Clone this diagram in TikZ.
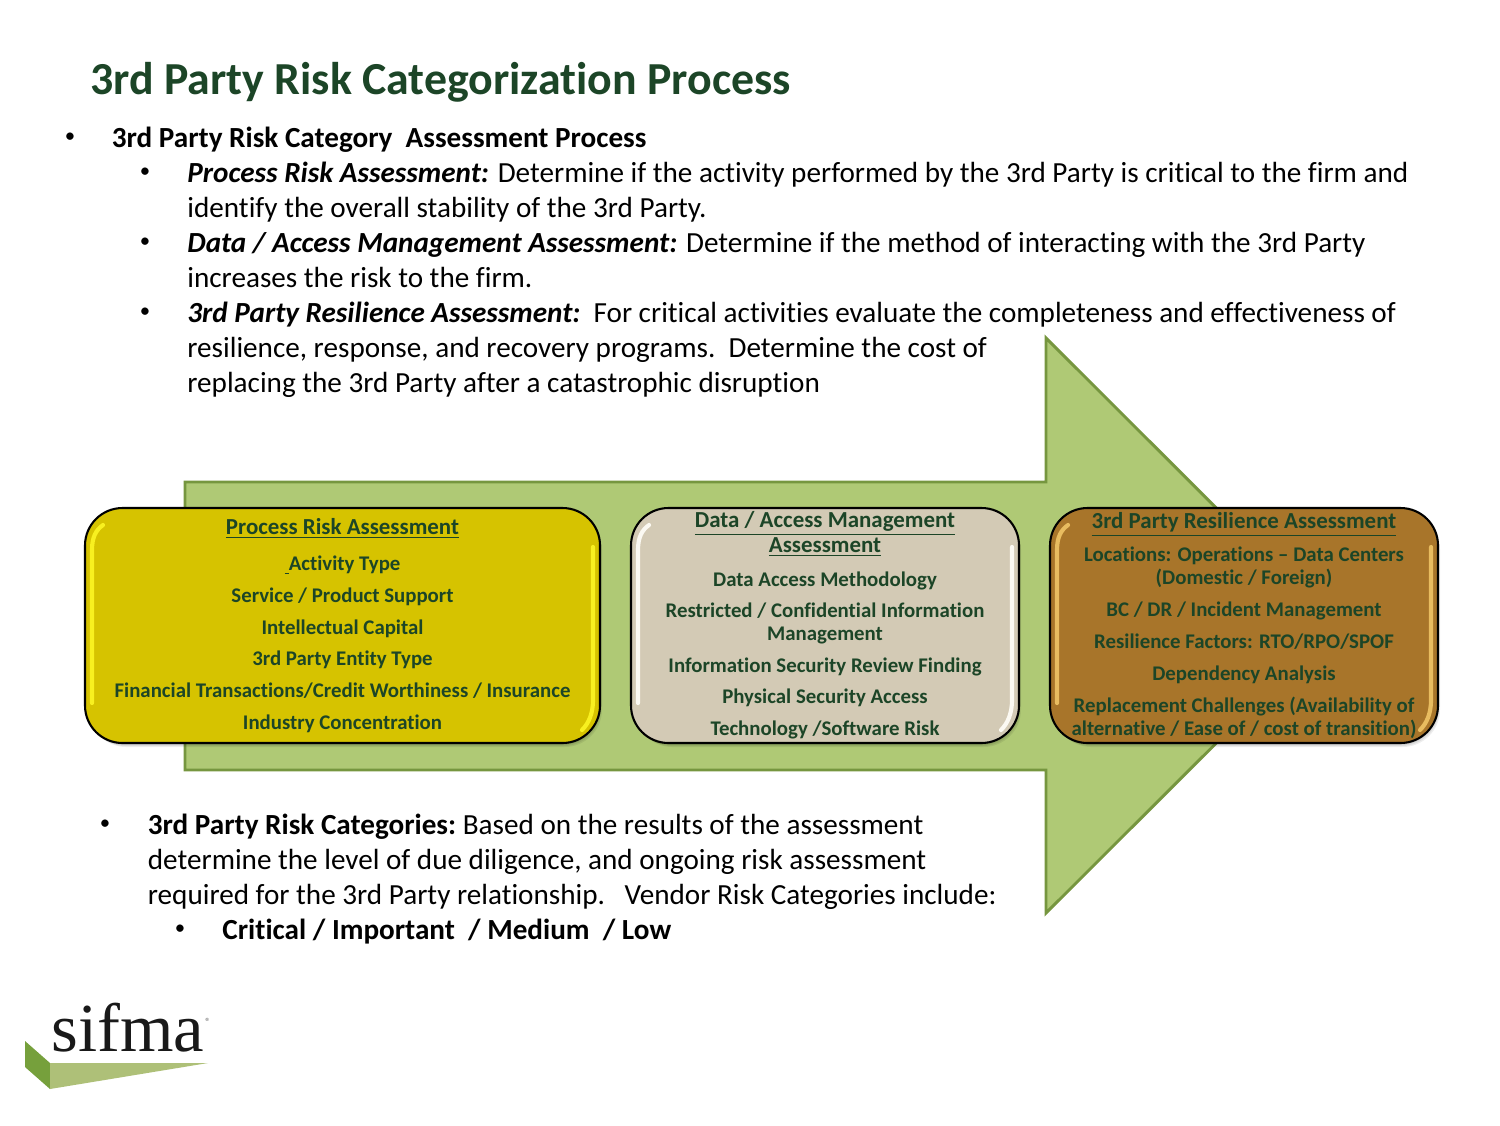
\documentclass[tikz,border=0pt]{standalone}
\usepackage{fontspec}
\setmainfont[Ligatures={TeX,NoCommon}]{Carlito}
\newfontfamily\logofont{Liberation Serif}
\usepackage{xcolor}
\usetikzlibrary{calc}
\definecolor{titlegreen}{HTML}{1C4527}
\definecolor{arrowfill}{HTML}{AFC975}
\definecolor{arrowedge}{HTML}{76963F}
\definecolor{procfill}{HTML}{D6C300}
\definecolor{procglow}{HTML}{F8F020}
\definecolor{datafill}{HTML}{D3CAB5}
\definecolor{dataglow}{HTML}{FBF9F2}
\definecolor{resfill}{HTML}{A8752A}
\definecolor{resglow}{HTML}{E8BC60}
\definecolor{logodark}{HTML}{76A03C}
\definecolor{logolight}{HTML}{AEC078}
\newcommand{\boxhead}[1]{{\fontsize{11}{12}\selectfont\underline{#1}}}
\tikzset{
  arrowbody/.style={fill=arrowfill, draw=arrowedge, line width=1.4pt, line join=miter},
  riskbox/.style={draw=black, line width=1pt, rounded corners=18pt, minimum width=#1*0.48pt,
    minimum height=235*0.48pt, inner sep=0pt, text=titlegreen, align=center,
    font=\fontsize{10}{11}\selectfont\bfseries},
  glow/.style={line width=2pt, line cap=round},
  para/.style={anchor=base west, inner sep=0pt, align=left, font=\fontsize{14}{16.8}\selectfont},
  bul/.style={anchor=center, inner sep=0pt, font=\fontsize{10}{12}\selectfont}
}
\begin{document}
\begin{tikzpicture}[x=0.48pt,y=-0.48pt]
  \useasboundingbox (0,0) rectangle (1500,1125);

  % big arrow behind the boxes
  \draw[arrowbody] (185,482)--(1046,482)--(1046,338)--(1334,625.5)--(1046,913)--(1046,770)--(185,770)--cycle;

  % soft shadows
  \foreach \xa/\xb in {85/600,631/1019,1050/1438}{
    \foreach \d in {1,2,3,4}{
      \fill[black,opacity=0.07,rounded corners=18pt] (\xa+\d,508+\d) rectangle (\xb+\d-2,743+\d);
    }
  }

  % the three boxes
  \node[riskbox=515,fill=procfill] (procbox) at (342.5,625.5) {%
    \boxhead{Process Risk Assessment}\\[6.3pt]
    \underline{\hspace{2pt}}Activity Type\\[4.3pt]
    Service / Product Support\\[4.3pt]
    Intellectual Capital\\[4.3pt]
    3rd Party Entity Type\\[4.3pt]
    Financial Transactions/Credit Worthiness / Insurance\\[4.3pt]
    Industry Concentration};
  \node[riskbox=388,fill=datafill] (databox) at (825,625.5) {%
    \boxhead{Data / Access Management}\\[1pt]
    \boxhead{Assessment}\\[5pt]
    Data Access Methodology\\[4pt]
    Restricted / Confidential Information\\
    Management\\[4.3pt]
    Information Security Review Finding\\[4.3pt]
    Physical Security Access\\[4.3pt]
    Technology /Software Risk};
  \node[riskbox=388,fill=resfill] (resbox) at (1244,625.5) {%
    \boxhead{3rd Party Resilience Assessment}\\[5pt]
    Locations: Operations -- Data Centers\\
    (Domestic / Foreign)\\[4.3pt]
    BC / DR / Incident Management\\[4.3pt]
    Resilience Factors: RTO/RPO/SPOF\\[4.3pt]
    Dependency Analysis\\[4.3pt]
    Replacement Challenges (Availability of\\
    alternative / Ease of / cost of transition)};

  % bevel highlights
  \foreach \xa/\xb/\hi in {85/600/procglow,631/1019/dataglow,1050/1438/resglow}{
    \draw[glow,\hi] (\xa+7,703) -- (\xa+7,550) .. controls (\xa+7,537) and (\xa+11,530) .. (\xa+18,525);
    \draw[glow,\hi] (\xb-7,547) -- (\xb-7,700) .. controls (\xb-7,713) and (\xb-11,723) .. (\xb-18,730);
  }

  % title and upper text
  \node[anchor=base west,inner sep=0pt,text=titlegreen,font=\fontsize{22}{26}\selectfont\bfseries] (title) at (90,94) {3rd Party Risk Categorization Process};
  \node[bul] (bulmain) at (70,138) {•};
  \node[para] (mainhead) at (111.5,147) {\bfseries 3rd Party Risk Category\ \ Assessment Process};
  \node[bul] (bulproc) at (145,173) {•};
  \node[para] (proctext) at (187,182) {{\bfseries\itshape Process Risk Assessment:} Determine if the activity performed by the 3rd Party is critical to the firm and};
  \node[para] (proctextb) at (187,217) {identify the overall stability of the 3rd Party.};
  \node[bul] (buldata) at (145,243) {•};
  \node[para] (datatext) at (187,252) {{\bfseries\itshape Data / Access Management Assessment:} Determine if the method of interacting with the 3rd Party};
  \node[para] (datatextb) at (187,287) {increases the risk to the firm.};
  \node[bul] (bulres) at (145,313) {•};
  \node[para] (restext) at (187,322) {{\bfseries\itshape 3rd Party Resilience Assessment:}\ \ For critical activities evaluate the completeness and effectiveness of};
  \node[para] (restextb) at (187,357) {resilience, response, and recovery programs.\ \ Determine the cost of};
  \node[para] (restextc) at (187,392) {replacing the 3rd Party after a catastrophic disruption};

  % lower text
  \node[bul] (bulcat) at (105,825) {•};
  \node[para] (cattext) at (147.5,834) {\textbf{3rd Party Risk Categories:}\hspace{-1pt} Based on the results of the assessment};
  \node[para] (cattextb) at (147.5,869) {determine the level of due diligence, and ongoing risk assessment};
  \node[para] (cattextc) at (147.5,904) {required for the 3rd Party relationship.\ \ \ Vendor Risk Categories include:};
  \node[bul] (bullevel) at (180,930) {•};
  \node[para] (leveltext) at (222,939) {\bfseries Critical / Important\ \ / Medium\ \ / Low};

  % logo
  \fill[logodark] (25,1041)--(50,1063)--(50,1089)--(25,1067)--cycle;
  \fill[logolight] (50,1063)--(208,1063)--(50,1089)--cycle;
  \node[anchor=base west,inner sep=0pt,text=black!90,font=\logofont\fontsize{33}{33}\selectfont] (logoname) at (51,1051) {sifma};
  \node[anchor=center,inner sep=0pt,text=black!60,font=\fontsize{5}{5}\selectfont] (logomark) at (208,1022) {®};
\end{tikzpicture}
\end{document}
